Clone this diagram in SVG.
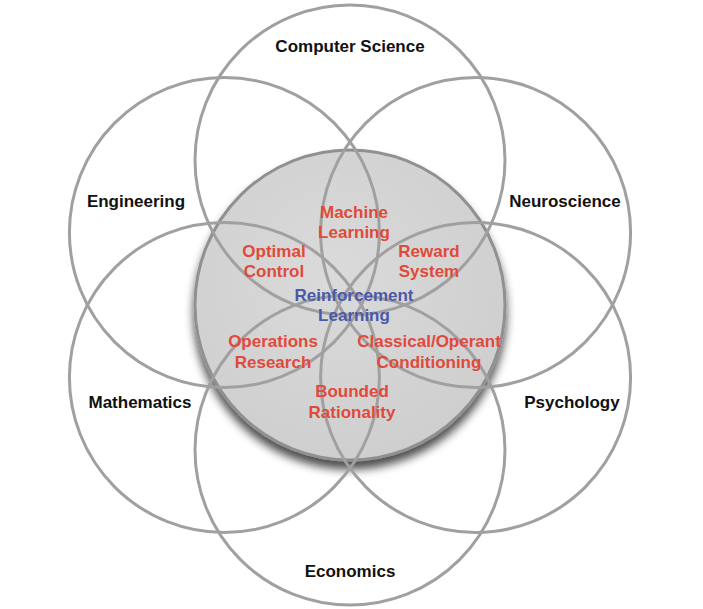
<svg xmlns="http://www.w3.org/2000/svg" width="703" height="609" viewBox="0 0 703 609">
<defs>
<radialGradient id="g" cx="0.45" cy="0.4" r="0.7"><stop offset="0" stop-color="#dadada"/><stop offset="1" stop-color="#cdcdcd"/></radialGradient>
<filter id="sh" x="-20%" y="-20%" width="140%" height="150%"><feGaussianBlur in="SourceAlpha" stdDeviation="5"/><feOffset dx="0" dy="8"/><feComponentTransfer><feFuncA type="linear" slope="0.7"/></feComponentTransfer><feMerge><feMergeNode/><feMergeNode in="SourceGraphic"/></feMerge></filter>
<style>
.o{fill:none;stroke:#a0a0a0;stroke-width:3}
text{font-family:"Liberation Sans",Arial,sans-serif;font-weight:bold;font-size:17px;text-anchor:middle}
.k{fill:#111}.r{fill:#e04a3a}.b{fill:#4a5aa8}
</style>
</defs>
<rect width="703" height="609" fill="#fff"/>
<g id="center"><circle cx="350" cy="305" r="155" fill="url(#g)" stroke="#909090" stroke-width="3" filter="url(#sh)"/></g>
<g id="connectors">
<circle class="o" cx="350" cy="160" r="155"/>
<circle class="o" cx="350" cy="450" r="155"/>
<circle class="o" cx="224.4" cy="232.5" r="155"/>
<circle class="o" cx="475.6" cy="232.5" r="155"/>
<circle class="o" cx="224.4" cy="377.5" r="155"/>
<circle class="o" cx="475.6" cy="377.5" r="155"/>
</g>
<g id="cs"><text class="k" x="350" y="52">Computer Science</text></g>
<g id="eng"><text class="k" x="136" y="207">Engineering</text></g>
<g id="neuro"><text class="k" x="565" y="207">Neuroscience</text></g>
<g id="math"><text class="k" x="140" y="408">Mathematics</text></g>
<g id="psy"><text class="k" x="572" y="408">Psychology</text></g>
<g id="eco"><text class="k" x="350" y="577">Economics</text></g>
<g id="ml"><text class="r" x="354" y="218">Machine</text><text class="r" x="354" y="238">Learning</text></g>
<g id="oc"><text class="r" x="274" y="257">Optimal</text><text class="r" x="274" y="277">Control</text></g>
<g id="rs"><text class="r" x="429" y="257">Reward</text><text class="r" x="429" y="277">System</text></g>
<g id="rl"><text class="b" x="354" y="301">Reinforcement</text><text class="b" x="354" y="321">Learning</text></g>
<g id="or"><text class="r" x="273" y="347">Operations</text><text class="r" x="273" y="368">Research</text></g>
<g id="co"><text class="r" x="429" y="347">Classical/Operant</text><text class="r" x="429" y="368">Conditioning</text></g>
<g id="br"><text class="r" x="352" y="397">Bounded</text><text class="r" x="352" y="418">Rationality</text></g>
</svg>
